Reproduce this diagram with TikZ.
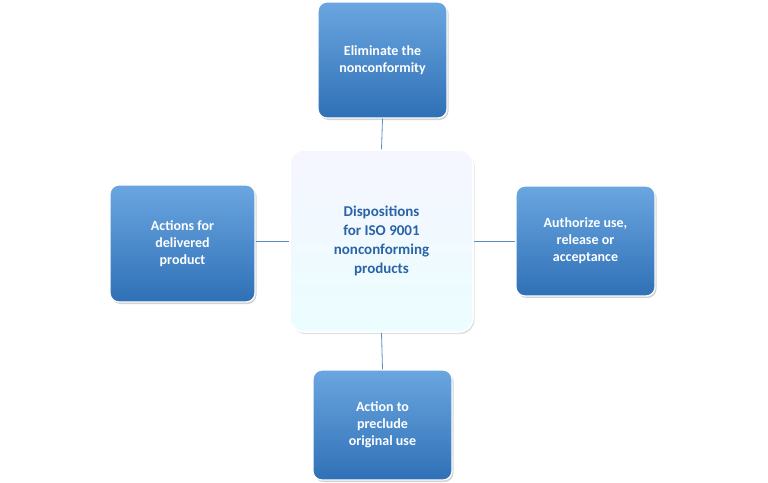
\documentclass[tikz,border=0pt]{standalone}
\usepackage{fontspec}
\setmainfont{Carlito}
\usetikzlibrary{shadows}
\definecolor{bt}{HTML}{6AA6E0}
\definecolor{bb}{HTML}{2F70B6}
\definecolor{ctext}{HTML}{2A64A6}
\definecolor{ln}{HTML}{5A8CC0}
\tikzset{
 box/.style={rounded corners=9pt, top color=bt, bottom color=bb, draw=white, line width=1.2pt,
   text=white, font=\bfseries\fontsize{14}{17}\selectfont, align=center, inner sep=0pt,
   drop shadow={shadow xshift=1.5pt,shadow yshift=-2pt,opacity=0.35}},
 cbox/.style={rounded corners=14pt, top color=white!70!blue!12, bottom color=blue!10!cyan!8,
   draw=white, line width=1.5pt, text=ctext, font=\bfseries\fontsize{15}{19}\selectfont, align=center, inner sep=0pt,
   drop shadow={shadow xshift=1.5pt,shadow yshift=-2pt,opacity=0.25}},
 conn/.style={draw=ln, line width=0.8pt}
}
\begin{document}
\begin{tikzpicture}[x=1pt,y=-1pt]
\useasboundingbox (0,0) rectangle (768,482);
\node[cbox, minimum width=183pt, minimum height=182pt] (c) at (381.5,241) {Dispositions\\for ISO 9001\\nonconforming\\products};
\node[box, minimum width=129pt, minimum height=116pt] (t) at (382.5,60) {Eliminate the\\nonconformity};
\node[box, minimum width=145pt, minimum height=117pt] (l) at (182.5,243.5) {Actions for\\delivered\\product};
\node[box, minimum width=139pt, minimum height=110pt] (r) at (585.5,241) {Authorize use,\\release or\\acceptance};
\node[box, minimum width=139pt, minimum height=110pt] (b) at (382.5,425) {Action to\\preclude\\original use};
\draw[conn] (t.south) -- (c.north);
\draw[conn] (b.north) -- (c.south);
\draw[conn] (l.east |- c.west) -- (c.west);
\draw[conn] (c.east) -- (r.west |- c.east);
\end{tikzpicture}
\end{document}
